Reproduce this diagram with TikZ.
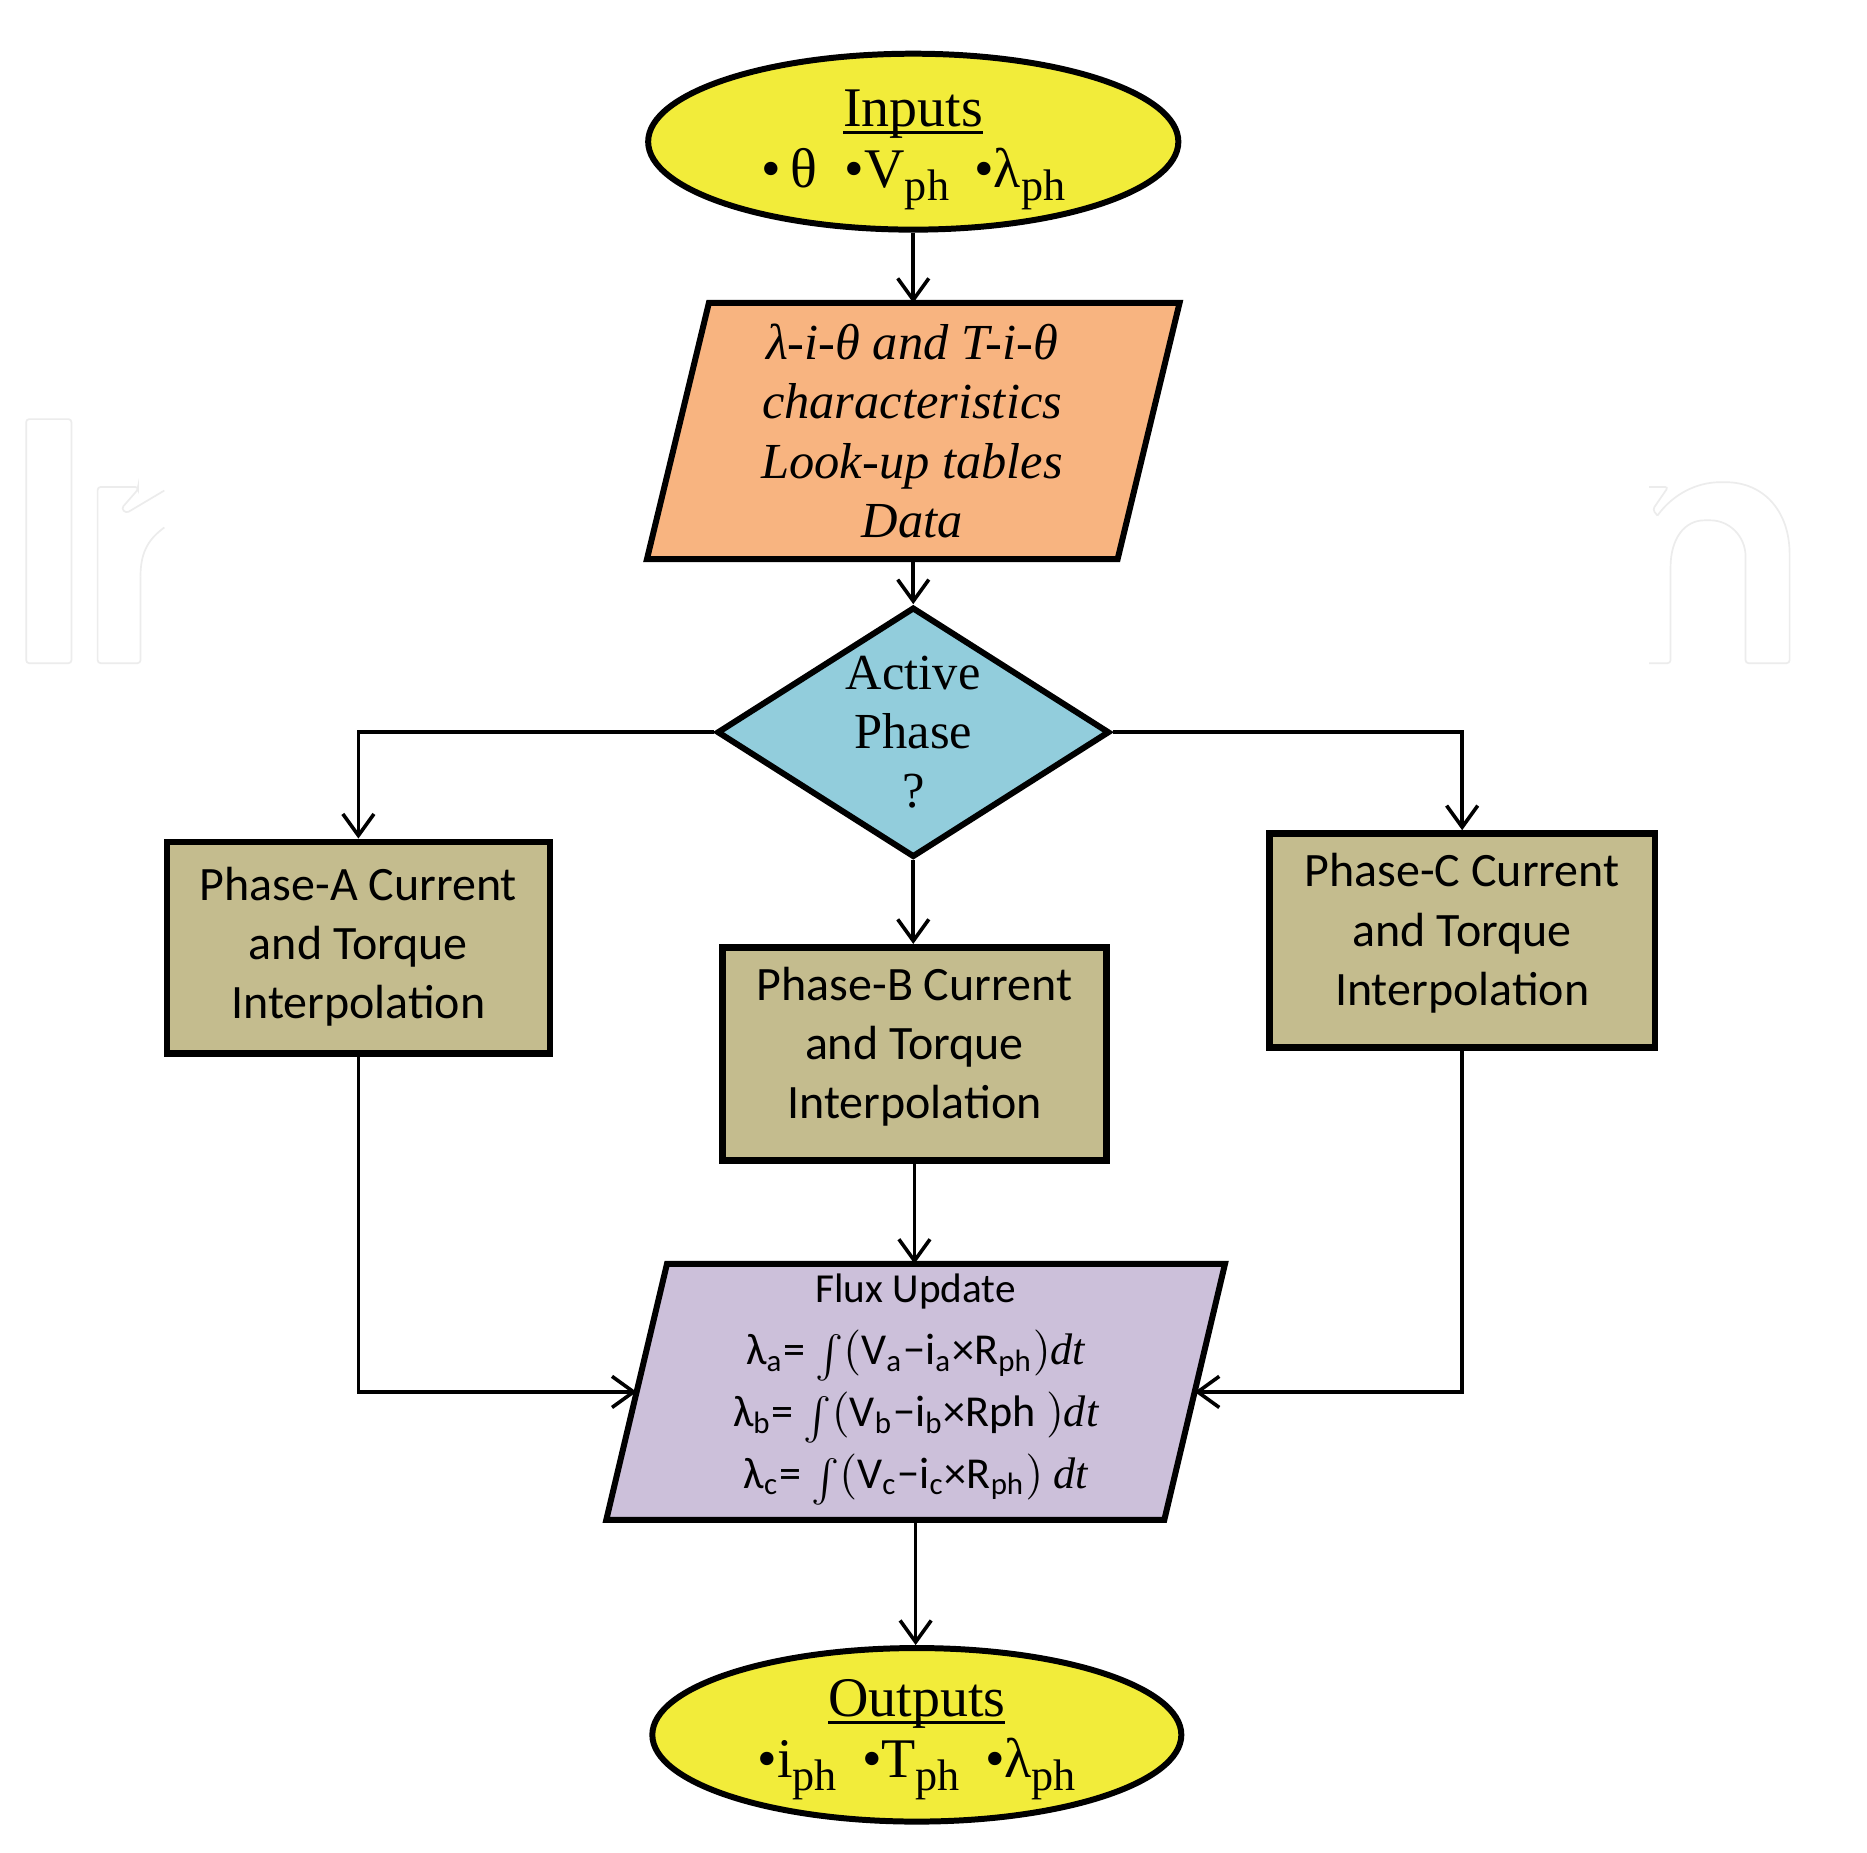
\documentclass[tikz,border=0pt]{standalone}
\usepackage{fontspec}
\setmainfont{Liberation Serif}
\newfontfamily\calib{Carlito}
\usetikzlibrary{shapes.geometric,arrows.meta,calc}
\definecolor{yel}{RGB}{242,236,58}
\definecolor{org}{RGB}{248,180,128}
\definecolor{blu}{RGB}{146,205,220}
\definecolor{boxtan}{RGB}{196,188,142}
\definecolor{lav}{RGB}{204,192,218}
\definecolor{wmark}{RGB}{236,236,236}
\newcommand\sbph[1]{\raisebox{-0.5ex}{\fontsize{10.5}{10}\selectfont #1}}
\newcommand\myul[1]{\setbox0\hbox{#1}\rlap{\rule[-0.13em]{\wd0}{0.05em}}\box0}
\newcommand\myint{\raisebox{-0.3ex}{\fontsize{11.5}{12}\selectfont$\int$}}
\begin{document}
\begin{tikzpicture}[x=0.00995cm,y=-0.00995cm,
  shp/.style={draw=black, line width=0.05cm, inner sep=0pt},
  ell/.style={shp, ellipse, fill=yel},
  box0/.style={rectangle, draw=none, inner sep=0pt, outer sep=0pt},
  pbox/.style={shp, rectangle, fill=boxtan, line width=0.055cm},
  conn/.style={line width=0.03cm, -{Straight Barb[length=0.18cm,width=0.26cm]}},
  seriftxt/.style={align=center, font=\fontsize{13.3}{15.5}\selectfont},
  itxt/.style={align=center, font=\fontsize{12}{14.1}\selectfont\itshape},
  dtxt/.style={align=center, font=\fontsize{12}{14}\selectfont},
  ptxt/.style={align=center, font=\calib\fontsize{11.4}{14.1}\selectfont},
  ftxt/.style={align=center, font=\calib\fontsize{10.5}{14.7}\selectfont},
  wm/.style={draw=wmark, line width=0.014cm, rounded corners=0.025cm}
]
\useasboundingbox[fill=white] (0,0) rectangle (1568,1556);

% watermark
\draw[wm] (22,352) rectangle (60,557);
\draw[wm] (138,412) -- (106,431) -- (102,427) -- (116,411) -- (116,409) -- (82,409) -- (82,557) -- (118,557) -- (118,484);
\draw[wm] (118,484) .. controls (118,462) and (126,452) .. (138,443);
\draw[wm] (1385,409) -- (1401,409) -- (1388,428) -- (1392,433);
\draw[wm] (1392,433) .. controls (1405,415) and (1425,405) .. (1447,405) .. controls (1480,405) and (1503,428) .. (1503,468) -- (1503,557) -- (1466,557) -- (1466,470) .. controls (1466,450) and (1452,437) .. (1434,437) .. controls (1415,437) and (1403,452) .. (1403,479) -- (1403,557) -- (1385,557);

% shapes
\node[ell, minimum width=4.43cm, minimum height=1.47cm] (inputs) at (767,119) {};
\node[box0, minimum width=4.45cm, minimum height=2.14cm] (tab) at (767,362) {};
\filldraw[shp, fill=org] ($(tab.north west)+(52,0)$) -- (tab.north east) -- ($(tab.south east)-(52,0)$) -- (tab.south west) -- cycle;
\node[shp, diamond, fill=blu, aspect=1.57, minimum width=3.28cm, minimum height=2.09cm] (dec) at (767,615) {};
\node[pbox, minimum width=3.20cm, minimum height=1.77cm] (pa) at (301,796) {};
\node[pbox, minimum width=3.21cm, minimum height=1.78cm] (pb) at (768,885) {};
\node[pbox, minimum width=3.22cm, minimum height=1.79cm] (pc) at (1228,790) {};
\node[box0, minimum width=5.17cm, minimum height=2.14cm] (flux) at (769,1169) {};
\filldraw[shp, fill=lav] ($(flux.north west)+(51,0)$) -- (flux.north east) -- ($(flux.south east)-(51,0)$) -- (flux.south west) -- cycle;
\coordinate (fluxL) at ($(flux.west)+(25.5,0)$);
\coordinate (fluxR) at ($(flux.east)-(25.5,0)$);
\node[ell, minimum width=4.42cm, minimum height=1.45cm] (outputs) at (770,1457) {};

% texts
\node[seriftxt] (tin) at (767,126) {\myul{Inputs}\\[-1pt]•\,θ\hspace{0.5em}•V\sbph{ph}\hspace{0.45em}•λ\sbph{ph}};
\node[itxt] (ttab) at (766,362) {λ-i-θ and T-i-θ\\characteristics\\Look-up tables\\Data};
\node[dtxt] (tdec) at (767,615) {Active\\Phase\\?};
\node[ptxt] (ta) at (301,795) {Phase-A Current\\and Torque\\Interpolation};
\node[ptxt] (tb) at (768,879) {Phase-B Current\\and Torque\\Interpolation};
\node[ptxt] (tc) at (1228,784) {Phase-C Current\\and Torque\\Interpolation};
\node[ftxt] (tflux) at (769,1167) {{\fontsize{9.8}{14.7}\selectfont Flux Update}\\
  λ\textsubscript{a}= \myint$\bigl($V\textsubscript{a}−i\textsubscript{a}×R\textsubscript{ph}$\bigr)${\rmfamily\itshape dt}\\
  λ\textsubscript{b}= \myint$\bigl($V\textsubscript{b}−i\textsubscript{b}×Rph $\bigr)${\rmfamily\itshape dt}\\
  λ\textsubscript{c}= \myint$\bigl($V\textsubscript{c}−i\textsubscript{c}×R\textsubscript{ph}$\bigr)$ {\rmfamily\itshape dt}};
\node[seriftxt] (tout) at (770,1461) {\myul{Outputs}\\[-1pt]•i\sbph{ph}\hspace{0.45em}•T\sbph{ph}\hspace{0.45em}•λ\sbph{ph}};

% connectors
\draw[conn] (inputs.south) -- (tab.north);
\draw[conn] (tab.south) -- (dec.north);
\draw[conn] (dec.west) -| (pa.north);
\draw[conn] (dec.east) -| (pc.north);
\draw[conn] (dec.south) -- (dec.south |- pb.north);
\draw[conn] (pb.south) -- (pb.south |- flux.north);
\draw[conn] (pa.south) |- (fluxL);
\draw[conn] (pc.south) |- (fluxR);
\draw[conn] (flux.south) -- (flux.south |- outputs.north);
\end{tikzpicture}
\end{document}
